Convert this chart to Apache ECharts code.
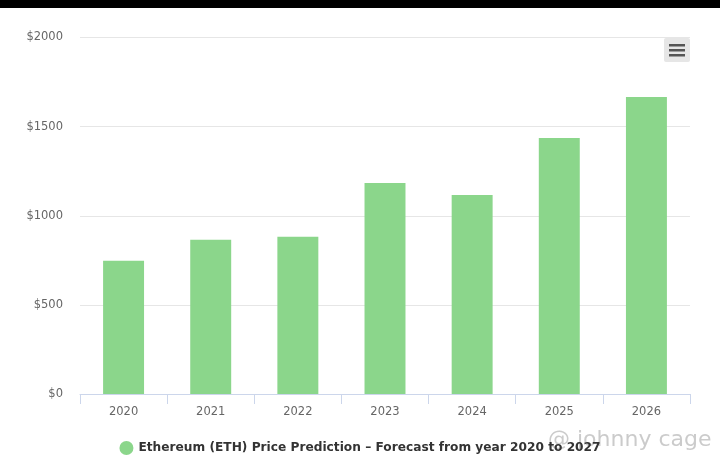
<!DOCTYPE html>
<html><head><meta charset="utf-8">
<script src="https://cdn.jsdelivr.net/npm/echarts@6/dist/echarts.min.js"></script>
<style>html,body{margin:0;padding:0;background:#fff}#c{width:720px;height:465px}</style>
</head><body><div id="c"></div>
<script>
const categories = ['2020','2021','2022','2023','2024','2025','2026'];
const prices = [748, 866, 882, 1184, 1116, 1436, 1666];
const yTicks = [0, 500, 1000, 1500, 2000];
const seriesName = 'Ethereum (ETH) Price Prediction \u2013 Forecast from year 2020 to 2027';

const chart = echarts.init(document.getElementById('c'));
chart.setOption({
  animation: false,
  textStyle: { fontFamily: 'DejaVu Sans' },
  grid: { left: 80, right: 30, top: 37.5, bottom: 71 },
  legend: {
    bottom: 5, left: 'center', icon: 'circle', itemWidth: 14, itemHeight: 14, itemGap: 8,
    textStyle: { fontSize: 12.2, fontWeight: 'bold', color: '#333', fontFamily: 'DejaVu Sans' },
    data: [seriesName]
  },
  xAxis: {
    type: 'category', data: categories,
    axisLine: { lineStyle: { color: '#ccd6eb' } },
    axisTick: { show: true, length: 10, alignWithLabel: false, lineStyle: { color: '#ccd6eb' } },
    axisLabel: { color: '#666', fontSize: 11.5, margin: 12 }
  },
  yAxis: {
    type: 'value', min: yTicks[0], max: yTicks[yTicks.length-1], interval: 500,
    axisLine: { show: false }, axisTick: { show: false },
    splitLine: { lineStyle: { color: '#e6e6e6' } },
    axisLabel: { color: '#666', fontSize: 11.5, margin: 17, formatter: v => '$' + v }
  },
  series: [{
    name: seriesName, type: 'bar', data: prices, barWidth: '47%',
    itemStyle: { color: '#8bd68b' }
  }],
  graphic: [
    { type: 'rect', shape: { x: 0, y: 0, width: 720, height: 8 }, style: { fill: '#000' } },
    { type: 'rect', shape: { x: 664, y: 38, width: 26, height: 24, r: 2 }, style: { fill: '#e6e6e6' } },
    { type: 'rect', shape: { x: 669, y: 44, width: 16, height: 2.5 }, style: { fill: '#555' } },
    { type: 'rect', shape: { x: 669, y: 49, width: 16, height: 2.5 }, style: { fill: '#555' } },
    { type: 'rect', shape: { x: 669, y: 54, width: 16, height: 2.5 }, style: { fill: '#555' } },
    { type: 'text', left: 548, top: 429, style: { text: '@ johnny cage', fill: 'rgba(160,160,160,0.55)', font: '22px "DejaVu Sans"' } }
  ]
});
</script></body></html>
